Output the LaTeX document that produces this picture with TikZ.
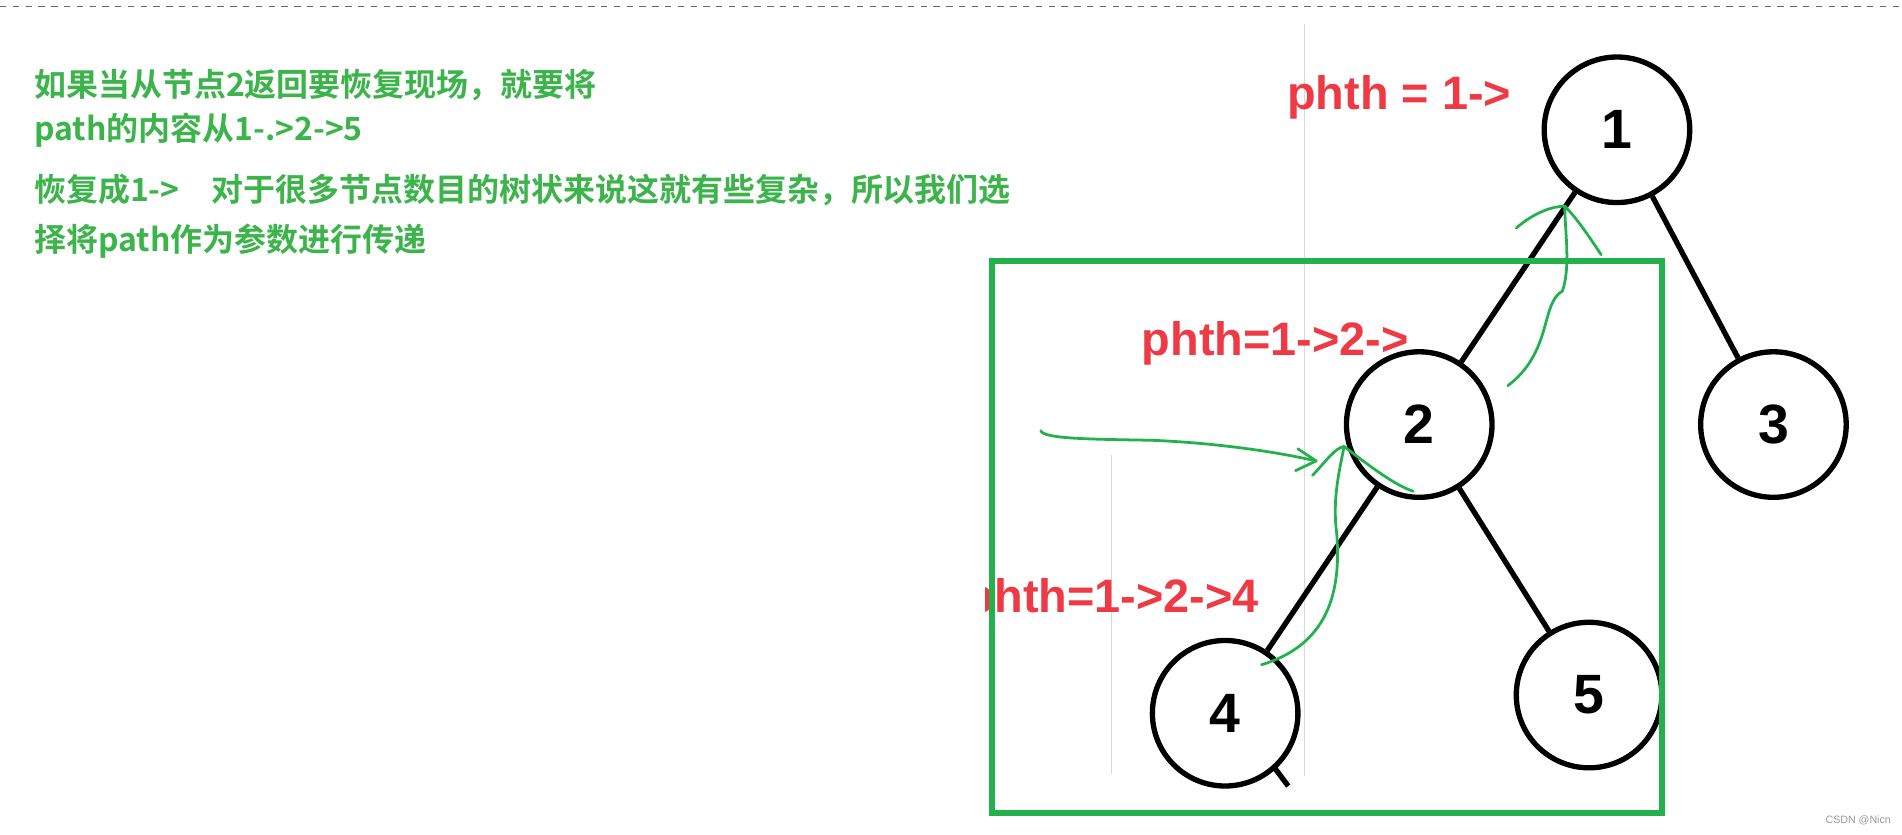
\documentclass[tikz,border=0pt]{standalone}
\usepackage{fontspec}
\setmainfont{Liberation Sans}
\newfontfamily\cjk{Noto Sans CJK SC}[BoldFont={Noto Sans CJK SC Bold}]
\definecolor{gtxt}{HTML}{3CB44B}
\definecolor{gbox}{HTML}{22B14C}
\definecolor{rtxt}{HTML}{ED3A45}
\begin{document}
\begin{tikzpicture}[x=0.02cm,y=-0.02cm,
  tn/.style={circle,draw,line width=2.5pt,minimum size=2.4cm,font=\fontsize{26}{28}\selectfont\bfseries},
  edge/.style={line width=2.5pt},
  gt/.style={anchor=west,text=gtxt,font=\cjk\bfseries\fontsize{15}{17}\selectfont},
  rt/.style={anchor=west,text=rtxt,font=\bfseries\fontsize{22}{24}\selectfont},
  hand/.style={gbox,line width=1.3pt,line cap=round,line join=round}]
\useasboundingbox (0,0) rectangle (1568,688);
\draw[dashed,black!60] (0,5) -- (1568,5);
\draw[black!15] (1075,20) -- (1075,640);
\draw[black!15] (916,375) -- (916,638);
\node[gt] (t1) at (22,70) {如果当从节点2返回要恢复现场，就要将};
\node[gt] (t2) at (22,107) {path的内容从1-.>2->5};
\node[gt] (t3) at (22,157) {恢复成1->\quad 对于很多节点数目的树状来说这就有些复杂，所以我们选};
\node[gt] (t4) at (22,199) {择将path作为参数进行传递};
\node[tn] (n1) at (1333,107) {1};
\node[tn] (n2) at (1170,350) {2};
\node[tn] (n3) at (1462,350) {3};
\node[tn] (n4) at (1010,588) {4};
\node[tn] (n5) at (1310,573) {5};
\draw[edge] (n1) -- (n2);
\draw[edge] (n1) -- (n3);
\draw[edge] (n2) -- (n4);
\draw[edge] (n2) -- (n5);
\coordinate (s4) at (1050,632);
\coordinate (e4) at (1062,648);
\draw[edge] (s4) -- (e4);
\node[rt] (r1) at (1055,80) {phth = 1->};
\node[rt] (r2) at (935,283) {phth=1->2->};
\node[rt] (r3) at (790,495) {phth=1->2->4};
\fill[white] (790,470) rectangle (812,520);
\draw[gbox,line width=3pt] (818,215) rectangle (1370,670);
\coordinate (a1) at (1243,318);
\coordinate (a2) at (1290,170);
\draw[hand] (a1) .. controls (1280,290) and (1270,250) .. (1288,240) .. controls (1295,220) and (1290,190) .. (a2);
\draw[hand] (1250,188) .. controls (1265,175) and (1280,170) .. (a2) .. controls (1300,180) and (1310,195) .. (1320,210);
\coordinate (b1) at (1040,548);
\coordinate (b2) at (1108,368);
\draw[hand] (b1) .. controls (1100,530) and (1105,480) .. (1102,440) .. controls (1098,410) and (1105,385) .. (b2);
\draw[hand] (1082,392) .. controls (1095,378) and (1100,370) .. (b2) .. controls (1130,385) and (1150,400) .. (1165,405);
\coordinate (c1) at (858,355);
\coordinate (c2) at (1085,380);
\draw[hand] (c1) .. controls (860,362) and (900,362) .. (950,363) .. controls (1000,365) and (1050,372) .. (c2);
\draw[hand] (1070,370) -- (c2) -- (1068,388);
\node[anchor=south east,text=black!40,font=\fontsize{5}{6}\selectfont] (cs) at (1565,686) {CSDN @Nicn};
\end{tikzpicture}
\end{document}
